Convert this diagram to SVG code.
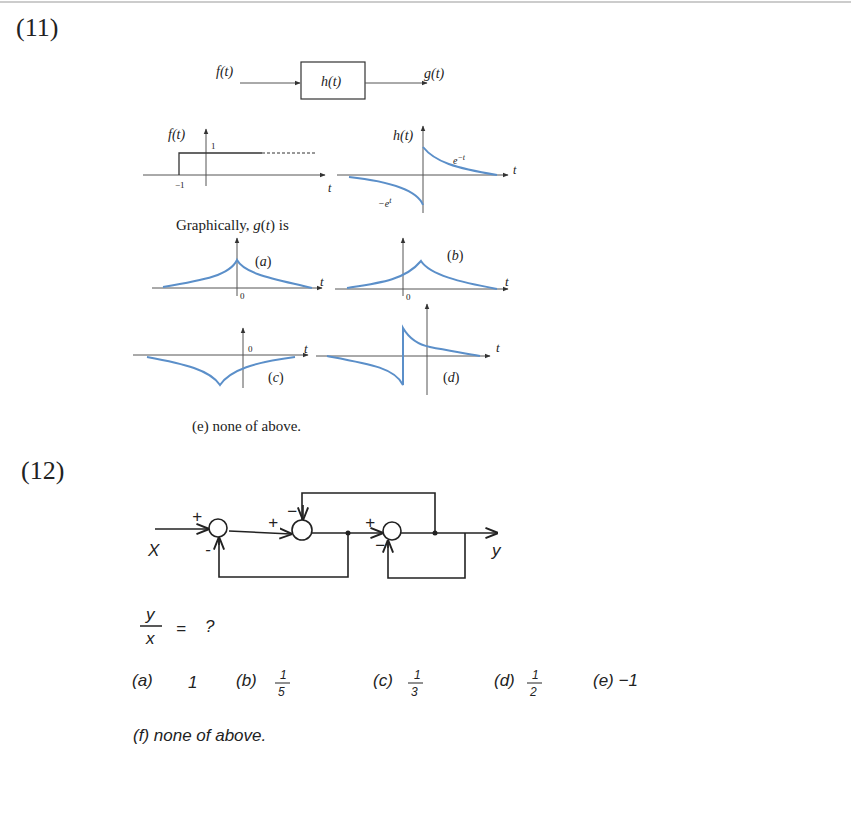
<svg xmlns="http://www.w3.org/2000/svg" width="851" height="820" viewBox="0 0 851 820">
<defs>
<marker id="ar" viewBox="0 0 10 10" refX="9" refY="5" markerWidth="6" markerHeight="6" orient="auto"><path d="M0,1 L10,5 L0,9 z" fill="#333"/></marker>
<marker id="oa" viewBox="0 0 10 10" refX="9" refY="5" markerWidth="8" markerHeight="8" orient="auto"><path d="M0,1 L10,5 L0,9" fill="none" stroke="#222" stroke-width="1.5"/></marker>
</defs>
<style>
.s{font-family:"Liberation Serif",serif;fill:#222}
.i{font-style:italic}
.ax{stroke:#555;stroke-width:1;fill:none}
.cv{stroke:#5b8fc9;stroke-width:2;fill:none}
.h{font-family:"Liberation Sans",sans-serif;font-style:italic;fill:#222;font-size:17px}
.w{stroke:#222;stroke-width:1.6;fill:none}
</style>
<rect width="851" height="820" fill="#fff"/>
<line x1="0" y1="2" x2="851" y2="2" stroke="#ccc" stroke-width="2"/>
<text class="s" x="16" y="36" font-size="26">(11)</text>
<g id="block">
<rect x="301" y="62" width="64" height="37" fill="none" stroke="#333" stroke-width="1.2"/>
<text class="s i" x="321" y="86" font-size="14">h(t)</text>
</g>
<g id="conn11">
<line class="ax" x1="240" y1="83" x2="300" y2="83" marker-end="url(#ar)"/>
<line class="ax" x1="365" y1="83" x2="427" y2="83" marker-end="url(#ar)"/>
</g>
<text class="s i" x="216" y="76" font-size="14">f(t)</text>
<text class="s i" x="424" y="78" font-size="14">g(t)</text>
<g id="ft">
<line class="ax" x1="143" y1="175" x2="325" y2="175" marker-end="url(#ar)"/>
<line class="ax" x1="206" y1="186" x2="206" y2="129" marker-end="url(#ar)"/>
<polyline points="179,175 179,153 262,153" fill="none" stroke="#333" stroke-width="1.3"/>
<line x1="262" y1="153" x2="315" y2="153" stroke="#333" stroke-width="1" stroke-dasharray="3,2"/>
<text class="s i" x="168" y="139" font-size="14">f(t)</text>
<text class="s" x="211" y="149" font-size="9">1</text>
<text class="s" x="175" y="188" font-size="9">−1</text>
<text class="s i" x="328" y="192" font-size="12">t</text>
</g>
<g id="ht">
<line class="ax" x1="337" y1="175" x2="508" y2="175" marker-end="url(#ar)"/>
<line class="ax" x1="423" y1="213" x2="423" y2="126" marker-end="url(#ar)"/>
<path class="cv" d="M423,147 C435,162 455,168 497,175"/>
<path class="cv" d="M349,177 C395,182 418,192 423,205"/>
<text class="s i" x="393" y="140" font-size="14">h(t)</text>
<text class="s i" x="453" y="164" font-size="10">e<tspan dy="-4" font-size="8">−t</tspan></text>
<text class="s i" x="378" y="207" font-size="10">−e<tspan dy="-4" font-size="8">t</tspan></text>
<text class="s i" x="513" y="174" font-size="12">t</text>
</g>
<text class="s" x="176" y="230" font-size="15">Graphically, <tspan class="i">g</tspan>(<tspan class="i">t</tspan>) is</text>
<g id="ga">
<line class="ax" x1="152" y1="288" x2="322" y2="288" marker-end="url(#ar)"/>
<line class="ax" x1="237" y1="296" x2="237" y2="238" marker-end="url(#ar)"/>
<path class="cv" d="M163,287 C205,280 230,275 237,260 C245,275 280,280 312,288"/>
<text class="s" x="255" y="266" font-size="14">(<tspan class="i">a</tspan>)</text>
<text class="s" x="240" y="299" font-size="9">0</text>
<text class="s i" x="320" y="286" font-size="13">t</text>
</g>
<g id="gb">
<line class="ax" x1="335" y1="289" x2="508" y2="289" marker-end="url(#ar)"/>
<line class="ax" x1="403" y1="296" x2="403" y2="238" marker-end="url(#ar)"/>
<path class="cv" d="M347,288 C380,283 405,280 421,261 C430,275 460,282 497,289"/>
<text class="s" x="447" y="260" font-size="14">(<tspan class="i">b</tspan>)</text>
<text class="s" x="406" y="300" font-size="9">0</text>
<text class="s i" x="505" y="286" font-size="13">t</text>
</g>
<g id="gc">
<line class="ax" x1="133" y1="355" x2="308" y2="355" marker-end="url(#ar)"/>
<line class="ax" x1="243" y1="388" x2="243" y2="328" marker-end="url(#ar)"/>
<path class="cv" d="M147,357 C185,364 210,370 220,385 C230,370 255,362 295,357"/>
<text class="s" x="248" y="352" font-size="9">0</text>
<text class="s i" x="304" y="353" font-size="13">t</text>
<text class="s" x="268" y="382" font-size="14">(<tspan class="i">c</tspan>)</text>
</g>
<g id="gd">
<line class="ax" x1="316" y1="356" x2="490" y2="356" marker-end="url(#ar)"/>
<line class="ax" x1="427" y1="395" x2="427" y2="304" marker-end="url(#ar)"/>
<path class="cv" d="M327,356 C370,364 395,368 403,385 L403,328 C410,340 420,345 430,347 C450,351 465,353 480,356"/>
<text class="s i" x="496" y="352" font-size="13">t</text>
<text class="s" x="443" y="382" font-size="14">(<tspan class="i">d</tspan>)</text>
</g>
<text class="s" x="192" y="431" font-size="15">(e)  none of above.</text>
<text class="s" x="21" y="479" font-size="26">(12)</text>
<g id="sum1"><circle cx="218" cy="528" r="9" class="w"/></g>
<g id="sum2"><circle cx="302" cy="530" r="10" class="w"/></g>
<g id="sum3"><circle cx="392" cy="531" r="9" class="w"/></g>
<g id="conn12">
<line class="w" x1="155" y1="529" x2="208" y2="529" marker-end="url(#oa)"/>
<line class="w" x1="229" y1="531" x2="291" y2="534" marker-end="url(#oa)"/>
<line class="w" x1="312" y1="533" x2="382" y2="533" marker-end="url(#oa)"/>
<polyline class="w" points="302,520 302,493 435,493 435,533"/>
<line class="w" x1="303" y1="505" x2="303" y2="519" marker-end="url(#oa)"/>
<line class="w" x1="401" y1="533" x2="497" y2="533" marker-end="url(#oa)"/>
<polyline class="w" points="348,533 348,577 219,577 219,539"/>
<line class="w" x1="219" y1="545" x2="219" y2="538" marker-end="url(#oa)"/>
<polyline class="w" points="465,533 465,578 388,578 388,541"/>
<line class="w" x1="388" y1="548" x2="388" y2="541" marker-end="url(#oa)"/>
<circle cx="348" cy="533" r="2.5" fill="#222"/>
<circle cx="435" cy="533" r="2.5" fill="#222"/>
</g>
<text class="h" x="192" y="522" font-size="13">+</text>
<text class="h" x="205" y="555" font-size="13">-</text>
<text class="h" x="268" y="528" font-size="13">+</text>
<text class="h" x="287" y="517">−</text>
<text class="h" x="365" y="528" font-size="13">+</text>
<text class="h" x="375" y="551">−</text>
<text class="h" x="148" y="556">X</text>
<text class="h" x="492" y="556">y</text>
<g class="h" font-size="18">
<text x="146" y="620">y</text>
<line x1="140" y1="626" x2="162" y2="626" stroke="#222" stroke-width="1.5"/>
<text x="146" y="644">x</text>
<text x="176" y="634">=</text>
<text x="205" y="632">?</text>
<text x="132" y="686">(a)</text><text x="188" y="688">1</text>
<text x="236" y="686">(b)</text><text x="280" y="679" font-size="12">1</text><line x1="275" y1="683" x2="290" y2="683" stroke="#222"/><text x="278" y="696" font-size="12">5</text>
<text x="373" y="686">(c)</text><text x="414" y="679" font-size="12">1</text><line x1="408" y1="683" x2="423" y2="683" stroke="#222"/><text x="411" y="696" font-size="12">3</text>
<text x="494" y="686">(d)</text><text x="532" y="679" font-size="12">1</text><line x1="527" y1="683" x2="542" y2="683" stroke="#222"/><text x="530" y="696" font-size="12">2</text>
<text x="593" y="686">(e) −1</text>
<text x="133" y="741">(f) none of above.</text>
</g>
</svg>
